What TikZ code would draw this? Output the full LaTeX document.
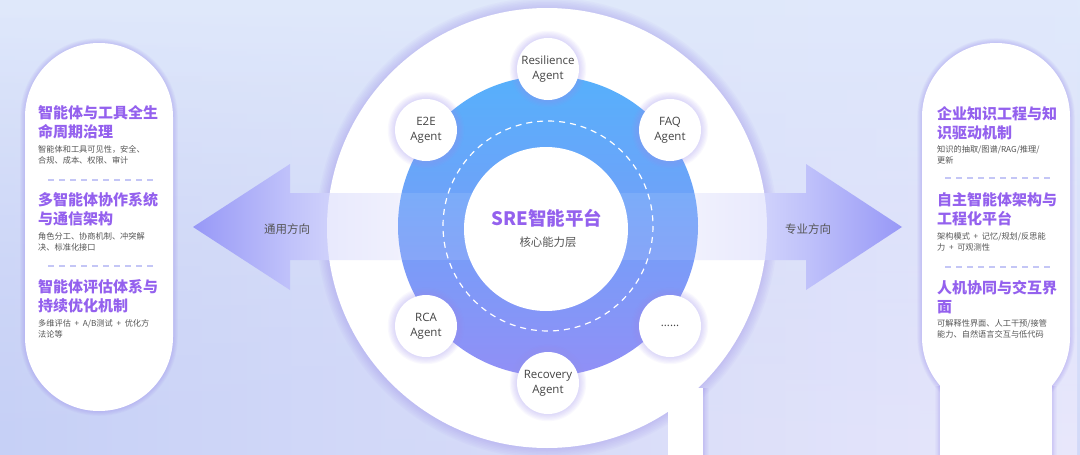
\documentclass[tikz,border=0pt]{standalone}
\usepackage{fontspec}
\setmainfont{Noto Sans CJK SC}
\newfontfamily\agentfont{Open Sans}
\usepackage{tikz}
\usepackage{xcolor}
\usetikzlibrary{fadings}

\definecolor{bgtop}{HTML}{E0E9FB}
\definecolor{bgbot}{HTML}{D2D9F8}
\definecolor{bgleft}{HTML}{C6D0F6}
\definecolor{bgright}{HTML}{E9E8FC}
\definecolor{titlepurple}{HTML}{9461EE}
\definecolor{textgray}{HTML}{555555}
\definecolor{agentgray}{HTML}{444444}
\definecolor{glowpurple}{HTML}{9E90F2}
\definecolor{ringtop}{HTML}{56B0FB}
\definecolor{ringbot}{HTML}{918FF6}
\definecolor{sepline}{HTML}{C4C6F6}
\definecolor{arrtip}{HTML}{9798F7}
\definecolor{arrbase}{HTML}{C0C2FA}
\definecolor{arrmid}{HTML}{CFD1FB}
\definecolor{arrlight}{HTML}{EAEAFD}
\definecolor{arrcenter}{HTML}{F7F6FE}

\pgfdeclarehorizontalshading{dirarrow}{100bp}{color(0bp)=(arrtip); color(25bp)=(arrtip);
  color(31.8bp)=(arrbase); color(34.7bp)=(arrmid); color(43bp)=(arrlight); color(50bp)=(arrcenter);
  color(57bp)=(arrlight); color(65.3bp)=(arrmid); color(68.2bp)=(arrbase); color(75bp)=(arrtip); color(100bp)=(arrtip)}

\tikzset{
  panel/.style={fill=white, rounded corners=73.9pt},
  heading/.style={anchor=north west, inner sep=0pt, align=left, text=titlepurple,
    font=\fontsize{15}{19.5}\selectfont\bfseries},
  desc/.style={anchor=north west, inner sep=0pt, align=left, text=textgray,
    font=\fontsize{8.2}{11.5}\selectfont},
  sepdash/.style={sepline, line width=1.4pt, dash pattern=on 6pt off 5pt},
  agent/.style={circle, fill=white, minimum size=62pt, inner sep=0pt, align=center,
    text=agentgray, font=\agentfont\fontsize{11.5}{15}\selectfont},
  dirlabel/.style={text=textgray, font=\fontsize{11.5}{14}\selectfont}
}

\begin{document}
\begin{tikzpicture}[x=1pt, y=-1pt]
\useasboundingbox (0,0) rectangle (1080,455);
% Hintergrund
\shade[top color=bgtop, bottom color=bgbot] (0,0) rectangle (1080,455);
\shade[left color=bgleft, right color=bgright, path fading=north] (0,0) rectangle (1080,455);

% Seitenleisten
\foreach \k in {1,...,6} {
  \draw[glowpurple, opacity=0.07, line width=\k*1.6pt, rounded corners=73.9pt] (25,43) rectangle (173,411);
  \draw[glowpurple, opacity=0.07, line width=\k*1.6pt, rounded corners=73.9pt] (922,43) rectangle (1070,411);
  \draw[glowpurple, opacity=0.06, line width=\k*1.6pt] (940,386) -- (940,460) (1052,386) -- (1052,460);
}
\fill[panel] (25,43) rectangle (173,411);
\fill[panel] (922,43) rectangle (1070,411);
\fill[white] (940,380) rectangle (1052,460);

% grosser Kreis
\coordinate (ctr) at (548,226);
\foreach \k in {1,...,7} {
  \fill[glowpurple, opacity=0.06] (547,228) circle (220+\k*1.5);
  \draw[glowpurple, opacity=0.06, line width=\k*1.6pt] (703,388) -- (703,460);
}
\fill[white] (547,228) circle (220);
\fill[white] (668,388) rectangle (703,460);

% Richtungspfeile
\shade[shading=dirarrow] (193,227) -- (290,164) -- (290,193) -- (806,193) -- (806,164)
  -- (902,227) -- (806,290) -- (806,260) -- (290,260) -- (290,290) -- cycle;
\begin{scope}
  \clip (290,193) rectangle (806,260);
  \fill[white, opacity=0.55] (547,228) circle (220);
\end{scope}

% Ring
\shade[top color=ringtop, bottom color=ringbot] (ctr) circle (150);
\fill[white, opacity=0.1] (398,193) rectangle (698,260);
\draw[white, line width=1.2pt, dash pattern=on 6pt off 5pt] (ctr) circle (105);
\fill[white] (546,229) circle (82);

\node[text=titlepurple, font=\fontsize{18.5}{20}\selectfont\bfseries] (sre) at (547,218) {SRE智能平台};
\node[text=textgray, font=\fontsize{11.4}{13}\selectfont] (core) at (548,242) {核心能力层};

% Agents
\foreach \p in {(548,69),(426,130),(670,130),(426,326),(670,326),(548,383)}
  \foreach \k in {1,...,6}
    \fill[glowpurple, opacity=0.06] \p circle (31+\k*1.2);
\node[agent] (resil) at (548,69) {Resilience\\Agent};
\node[agent] (e2e) at (426,130) {E2E\\Agent};
\node[agent] (faq) at (670,130) {FAQ\\Agent};
\node[agent] (rca) at (426,326) {RCA\\Agent};
\node[agent] (more) at (670,326) {......};
\node[agent] (recov) at (548,383) {Recovery\\Agent};

\node[dirlabel] (general) at (287,229) {通用方向};
\node[dirlabel] (special) at (808,229) {专业方向};

% linke Seite
\node[heading] (lhA) at (38,105) {智能体与工具全生\\命周期治理};
\node[desc] (ldA) at (38,145) {智能体和工具可见性，安全、\\合规、成本、权限、审计};
\draw[sepdash] (48,180) -- (157,180);
\node[heading] (lhB) at (38,192) {多智能体协作系统\\与通信架构};
\node[desc] (ldB) at (38,232) {角色分工、协商机制、冲突解\\决、标准化接口};
\draw[sepdash] (48,266) -- (157,266);
\node[heading] (lhC) at (38,279) {智能体评估体系与\\持续优化机制};
\node[desc] (ldC) at (38,319) {多维评估 ~+~ A/B测试 ~+~ 优化方\\法论等};

% rechte Seite
\node[heading] (rhA) at (937,106) {企业知识工程与知\\识驱动机制};
\node[desc] (rdA) at (937,145) {知识的抽取/图谱/RAG/推理/\\更新};
\draw[sepdash] (945,178) -- (1053,178);
\node[heading] (rhB) at (937,192) {自主智能体架构与\\工程化平台};
\node[desc] (rdB) at (937,232) {架构模式 ~+~ 记忆/规划/反思能\\力 ~+~ 可观测性};
\draw[sepdash] (945,267) -- (1053,267);
\node[heading] (rhC) at (937,280) {人机协同与交互界\\面};
\node[desc] (rdC) at (937,319) {可解释性界面、人工干预/接管\\能力、自然语言交互与低代码};
\end{tikzpicture}
\end{document}
